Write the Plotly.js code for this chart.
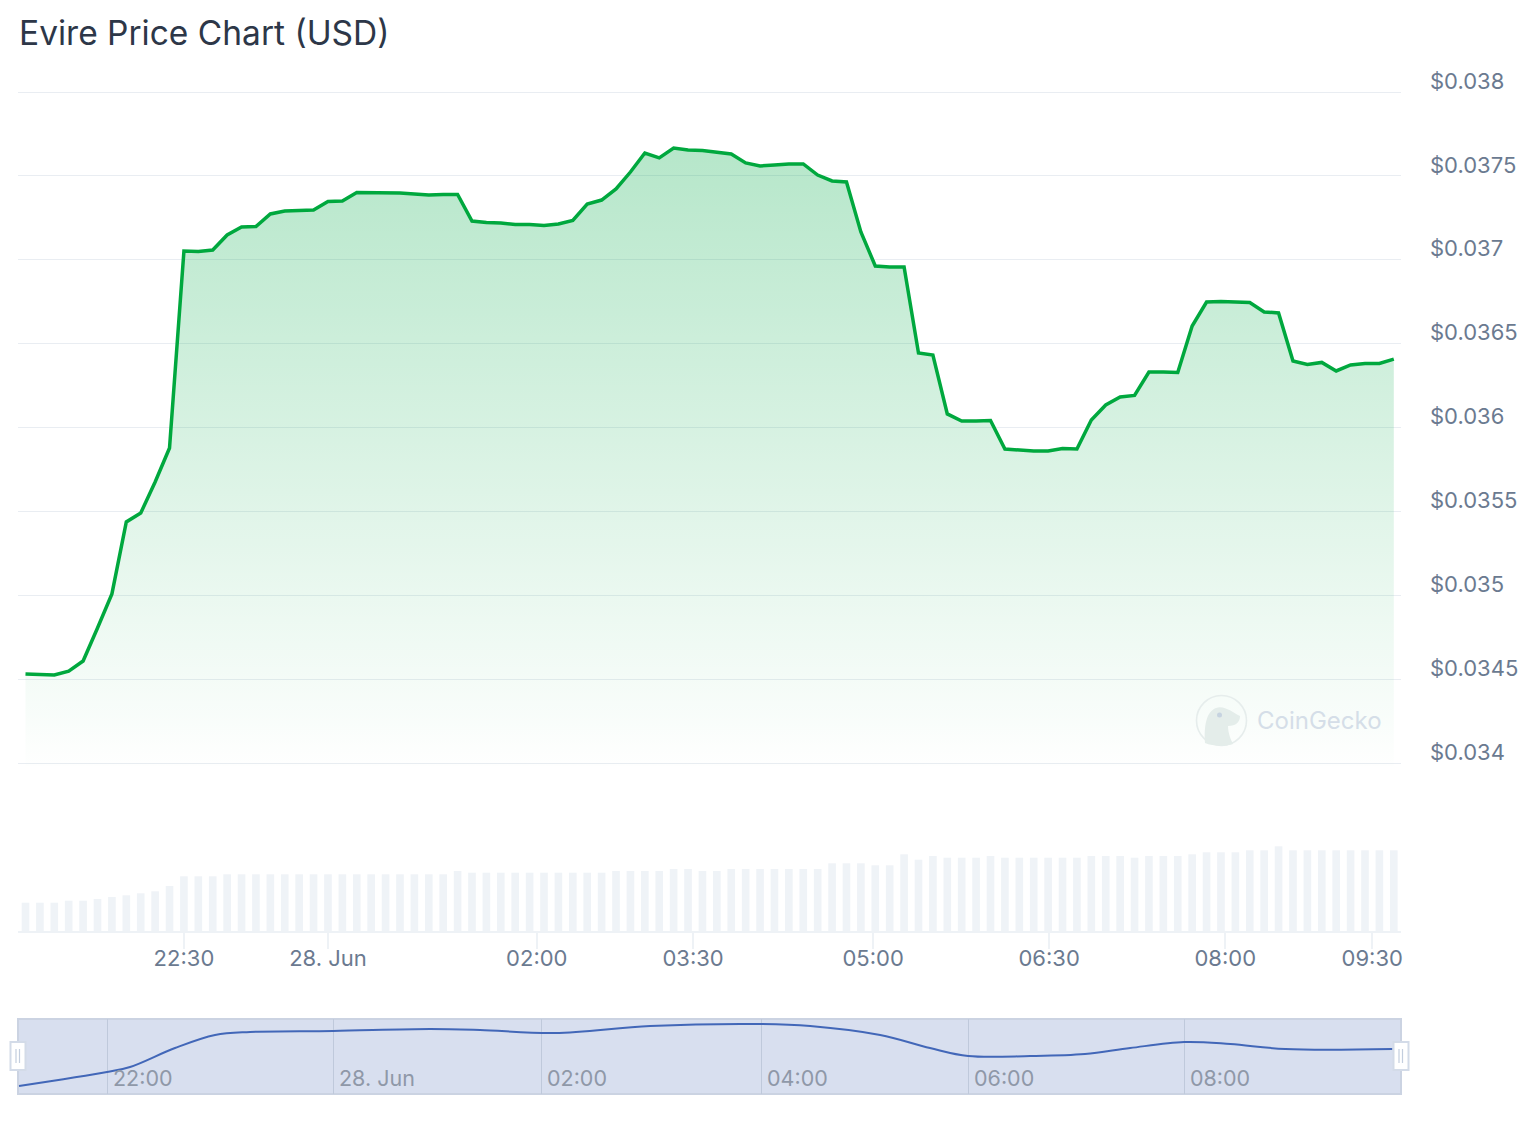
<!DOCTYPE html>
<html>
<head>
<meta charset="utf-8">
<script src="https://cdn.plot.ly/plotly-3.0.1.min.js"></script>
<style>html,body{margin:0;padding:0;background:#fff}#chart{width:1536px;height:1121px}</style>
</head>
<body>
<div id="chart"></div>
<script>
const titleText = 'Evire Price Chart (USD)';
const prices = [
0.034531,0.034528,0.034525,0.034548,0.034608,0.034805,0.035008,0.035437,0.035490,0.035675,0.035878,0.037052,
0.037049,0.037058,0.037148,0.037195,0.037198,0.037273,0.037291,0.037294,0.037297,0.037347,0.037350,0.037401,
0.037401,0.037401,0.037398,0.037392,0.037386,0.037389,0.037389,0.037231,0.037222,0.037219,0.037210,0.037210,
0.037204,0.037213,0.037234,0.037332,0.037356,0.037422,0.037523,0.037636,0.037607,0.037666,0.037654,0.037651,
0.037639,0.037630,0.037577,0.037559,0.037565,0.037571,0.037571,0.037505,0.037470,0.037464,0.037166,0.036963,
0.036957,0.036957,0.036444,0.036432,0.036081,0.036039,0.036039,0.036042,0.035872,0.035866,0.035860,0.035860,
0.035875,0.035872,0.036045,0.036134,0.036182,0.036191,0.036331,0.036331,0.036328,0.036605,0.036748,0.036751,
0.036748,0.036745,0.036689,0.036683,0.036396,0.036376,0.036388,0.036337,0.036373,0.036382,0.036382,0.036408];
const volumes = [
28.3,28.3,28.3,30.3,30.3,32,34,35.7,37.7,39.7,45,54.7,54.7,54.7,56.7,56.7,56.7,56.7,56.7,56.7,56.7,56.7,56.7,56.7,
56.7,56.7,56.7,56.7,56.7,56.7,60,58.3,58.3,58.3,58.3,58.3,58.3,58.3,58.3,58.3,58.3,60,60,60,60,62,62,60,60,62,62,
62,62,62,62,62,67.7,67.7,67.7,65.7,65.7,76.7,71.3,75,73.3,73.3,73.3,75,73.3,73.3,73.3,73.3,73.3,73.3,75,75,75,73.3,
75,75,75,76.7,78.7,78.7,78.7,80.7,80.7,84.7,80.7,80.7,80.7,80.7,80.7,80.7,80.7,80.7];
const priceTicks = [0.034,0.0345,0.035,0.0355,0.036,0.0365,0.037,0.0375,0.038];
const priceTickLabels = ['$0.034','$0.0345','$0.035','$0.0355','$0.036','$0.0365','$0.037','$0.0375','$0.038'];
const timeTicks = [11,21,35.5,46.35,58.85,71.07,83.3,93.5];
const timeTickLabels = ['22:30','28. Jun','02:00','03:30','05:00','06:30','08:00','09:30'];
const navX = [-0.45,5.66,7.26,10.38,13.16,15.59,21.35,28.09,31.56,36.77,43.37,51.01,54.48,59.34,62.8,65.45,69.76,73.56,76.7,80.45,83.65,87.47,94.9];
const navY = [0.0345,0.034997,0.035175,0.035849,0.036311,0.036417,0.036453,0.036524,0.036488,0.036382,0.03663,0.036701,0.03663,0.036311,0.035849,0.035565,0.035565,0.035636,0.035849,0.036062,0.035991,0.035814,0.035814];
const navTicks = [5.66,21.35,35.8,51.08,65.45,80.45];
const navTickLabels = ['22:00','28. Jun','02:00','04:00','06:00','08:00'];
const watermark = 'CoinGecko';

const W = 1536, H = 1121;
const fx = p => p / W, fy = p => 1 - p / H;
const P = (x, y) => fx(x) + ',' + fy(y);
const idx = prices.map((_, i) => i);
const xRange = [-0.52, 95.5];
const FONT = 'Inter, "Noto Sans", sans-serif';
const handle = x => ({type:'rect', xref:'paper', yref:'paper', x0:fx(x-7.5), x1:fx(x+7.5), y0:fy(1070), y1:fy(1042),
  fillcolor:'#fff', line:{color:'#d3dbe8', width:2}, layer:'above'});
const grip = x => ({type:'line', xref:'paper', yref:'paper', x0:fx(x), x1:fx(x), y0:fy(1063), y1:fy(1049),
  line:{color:'#c3cede', width:1.2}, layer:'above'});

const traces = [
  {type:'bar', x:idx, y:volumes, xaxis:'x2', yaxis:'y2', marker:{color:'#eff3f7', line:{width:0}}, hoverinfo:'skip'},
  {type:'scatter', mode:'lines', x:idx, y:prices, xaxis:'x', yaxis:'y', fill:'tozeroy',
    line:{color:'#00a83e', width:3.5}, fillcolor:'rgba(0,170,70,0.28)',
    fillgradient:{type:'vertical', start:0.0377, stop:0.034,
      colorscale:[[0,'rgba(0,170,70,0.29)'],[1,'rgba(0,170,70,0.005)']]}},
  {type:'scatter', mode:'lines', x:navX, y:navY, xaxis:'x3', yaxis:'y3',
    line:{color:'#4267b8', width:2, shape:'spline', smoothing:1}, hoverinfo:'skip'}
];

const layout = {
  width:W, height:H, margin:{l:0,r:0,t:0,b:0}, showlegend:false, bargap:0.47,
  paper_bgcolor:'#fff', plot_bgcolor:'rgba(0,0,0,0)', font:{family:FONT},
  title:{text:titleText, x:fx(19), xanchor:'left', xref:'paper', y:fy(33), yanchor:'middle', yref:'paper',
    font:{family:FONT, size:33.5, color:'#2d3748'}},
  xaxis:{domain:[fx(18),fx(1401)], range:xRange, anchor:'y', visible:false},
  yaxis:{domain:[fy(766.355),fy(88.645)], range:[0.03398,0.03802], anchor:'x', side:'right', tickmode:'array',
    tickvals:priceTicks, ticktext:priceTickLabels, gridcolor:'#e9edf2', gridwidth:1.4, zeroline:false,
    showline:false, ticks:'', ticklabelstandoff:28, ticklabelshift:-11,
    tickfont:{family:FONT, size:22, color:'#6b7a90'}},
  xaxis2:{domain:[fx(18),fx(1401)], range:xRange, anchor:'y2', tickmode:'array', tickvals:timeTicks,
    ticktext:timeTickLabels, ticks:'outside', ticklen:16, tickwidth:1.5, tickcolor:'#eef2f6',
    showline:true, linecolor:'#eef2f6', linewidth:1.5, showgrid:false, zeroline:false, ticklabelstandoff:-9,
    tickfont:{family:FONT, size:22, color:'#6b7a90'}},
  yaxis2:{domain:[fy(931),fy(831)], range:[0,100], anchor:'x2', visible:false},
  xaxis3:{domain:[fx(18),fx(1401)], range:xRange, anchor:'y3', tickmode:'array', tickvals:navTicks,
    showticklabels:false, ticks:'', showgrid:true, gridcolor:'#bfc9db', gridwidth:1, zeroline:false, showline:false},
  yaxis3:{domain:[fy(1094),fy(1019)], range:[0.034216,0.036879], anchor:'x3', visible:false},
  annotations: navTicks.map((t,i)=>({xref:'x3', yref:'paper', x:t, y:fy(1078), xanchor:'left', yanchor:'middle',
      xshift:4, text:navTickLabels[i], showarrow:false, font:{family:FONT, size:21.5, color:'#8f98a8'}}))
    .concat([{xref:'paper', yref:'paper', x:fx(1255), y:fy(720), xanchor:'left', yanchor:'middle', text:watermark,
      showarrow:false, font:{family:FONT, size:24, color:'#d5dee8'}}]),
  shapes:[
    {type:'rect', xref:'paper', yref:'paper', x0:fx(18), x1:fx(1401), y0:fy(1094), y1:fy(1019),
      fillcolor:'#d8dfef', line:{color:'#cbd3e2', width:2}, layer:'below'},
    handle(18), handle(1401), grip(16), grip(19.5), grip(1399), grip(1402.5),
    {type:'circle', xref:'paper', yref:'paper', x0:fx(1196.5), x1:fx(1246.5), y0:fy(745.5), y1:fy(695.5),
      line:{color:'#e6edec', width:1.6}, fillcolor:'rgba(0,0,0,0)', layer:'above'},
    {type:'path', xref:'paper', yref:'paper', layer:'above', line:{width:0}, fillcolor:'#e4edea',
      path:'M'+P(1205,743)+' C'+P(1204,726)+' '+P(1206,712)+' '+P(1216,708)+' C'+P(1224,705)+' '+P(1232,712)+' '+P(1240,716)
        +' C'+P(1240,722)+' '+P(1236,726)+' '+P(1228,726)+' C'+P(1228,733)+' '+P(1231,740)+' '+P(1233,744)
        +' C'+P(1224,747)+' '+P(1212,746)+' '+P(1205,743)+' Z'},
    {type:'circle', xref:'paper', yref:'paper', x0:fx(1217), x1:fx(1222), y0:fy(717.5), y1:fy(712.5),
      line:{width:0}, fillcolor:'#c6d3e0', layer:'above'}
  ]
};
Plotly.newPlot('chart', traces, layout, {displayModeBar:false, responsive:false});
</script>
</body>
</html>
